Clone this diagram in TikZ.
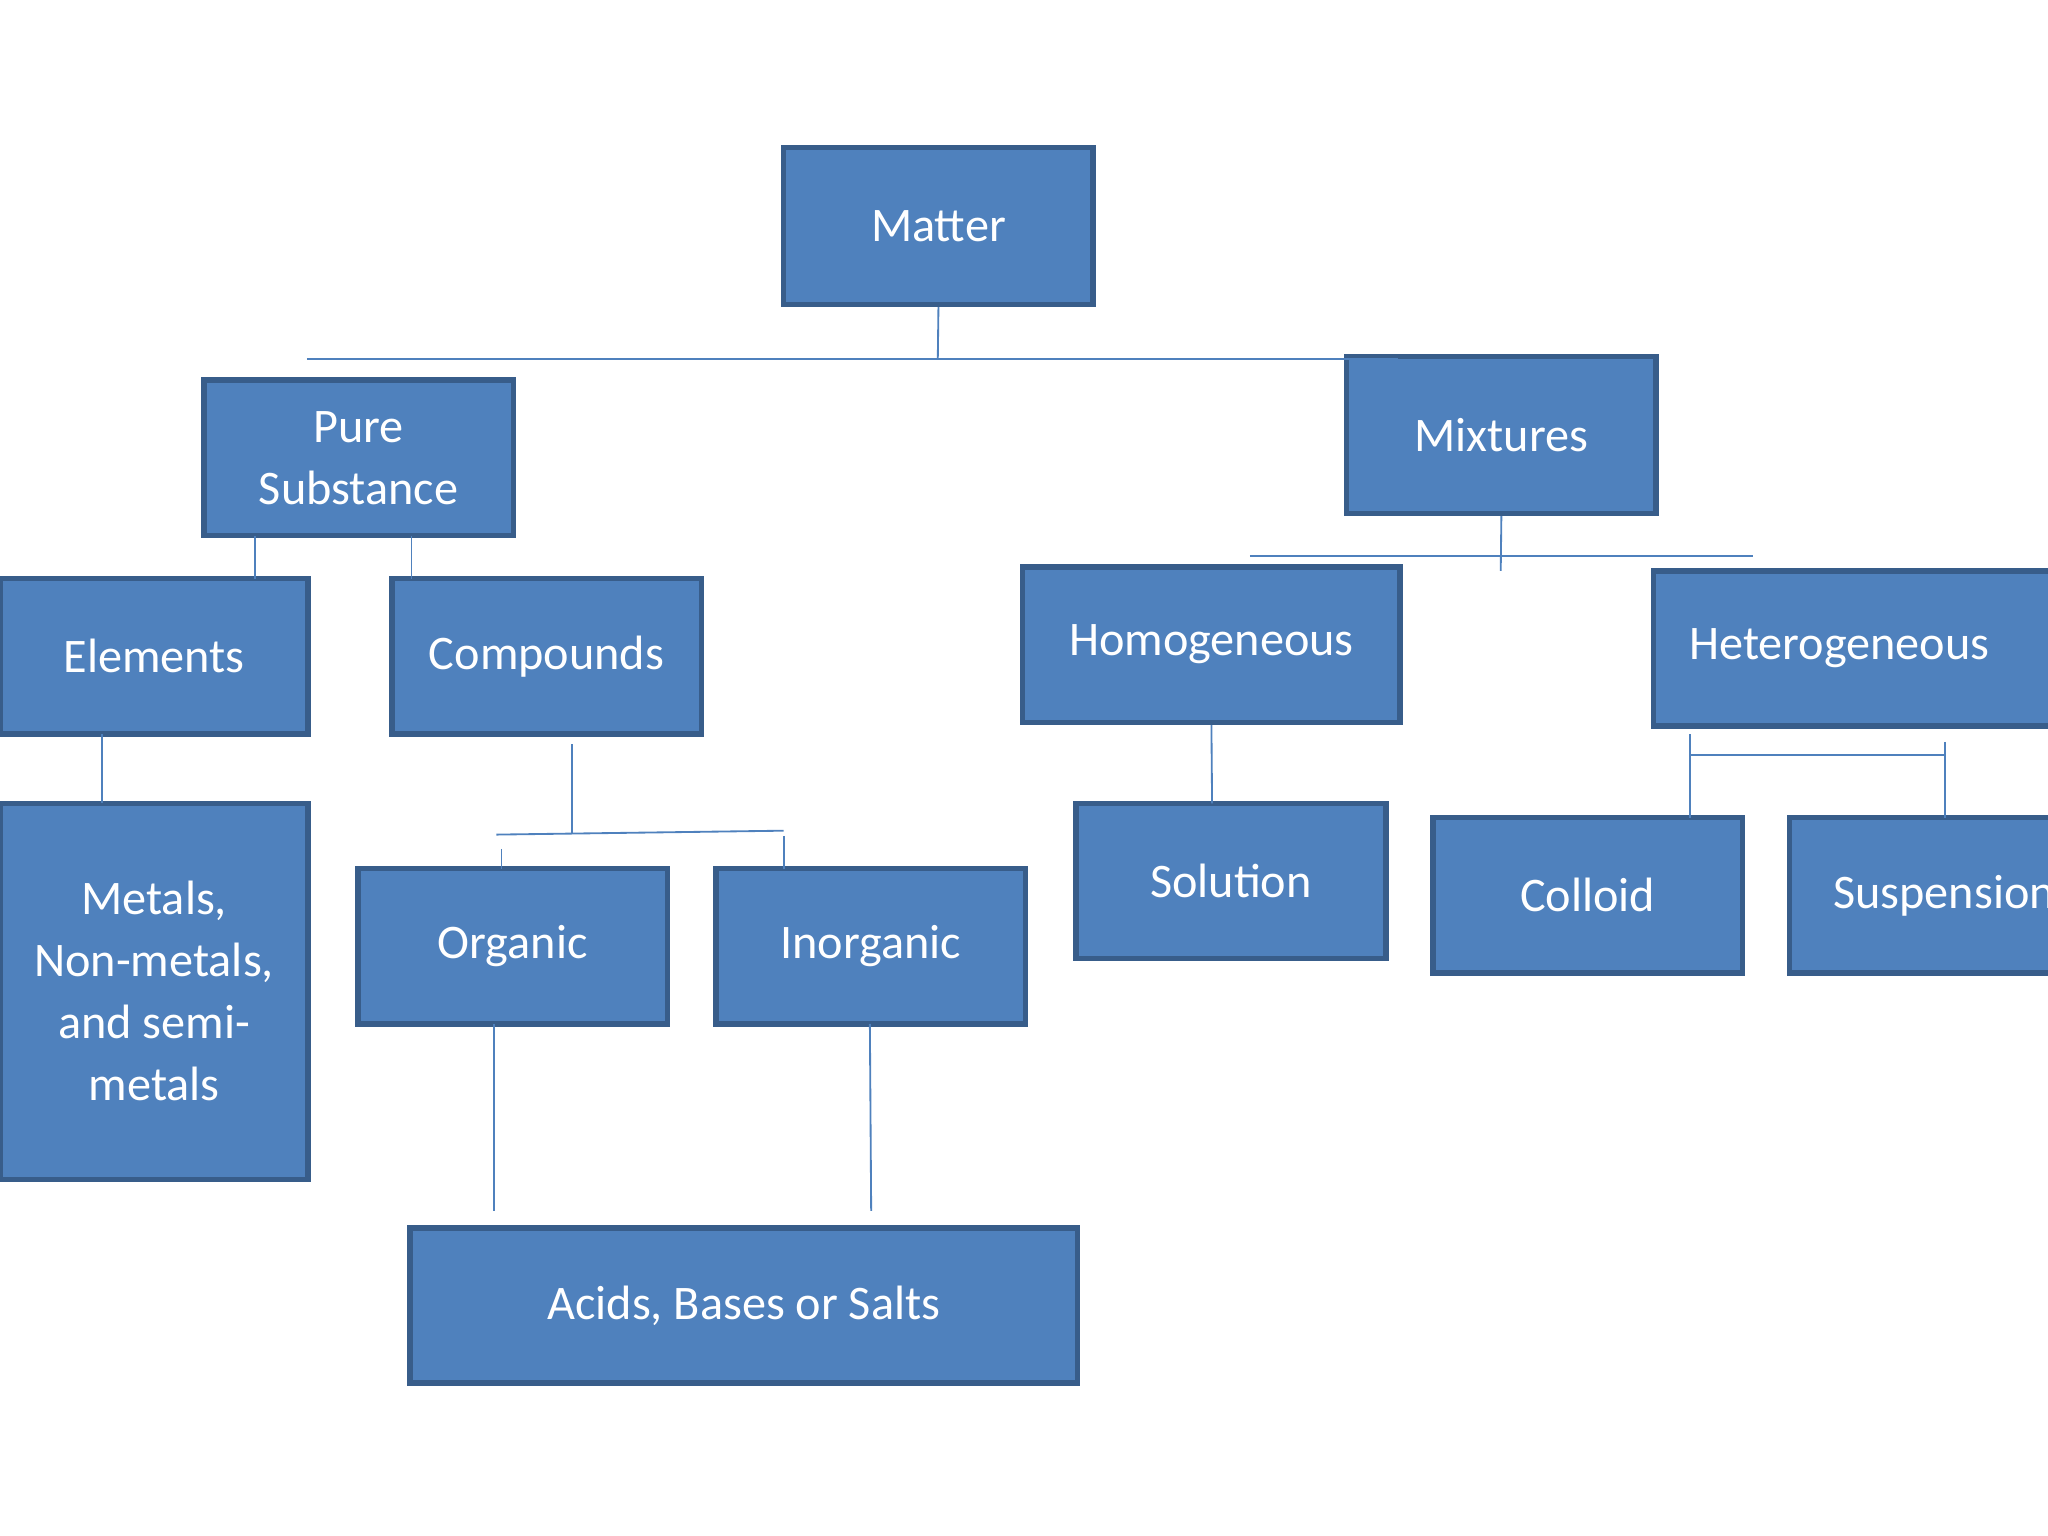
\documentclass[tikz,border=0pt]{standalone}
\usepackage{fontspec}
\setmainfont{Carlito}
\begin{document}
\begin{tikzpicture}[x=0.01cm,y=-0.01cm,
 box/.style={draw=blue!30!black!70!cyan!60,fill=boxfill,line width=1.2pt,text=white,align=center,inner sep=0pt,font=\fontsize{10.5}{13.5}\selectfont},
 ln/.style={draw=boxfill,line width=0.4pt}]
\definecolor{boxfill}{HTML}{4F81BD}
\definecolor{boxline}{HTML}{385D8A}
\tikzset{box/.append style={draw=boxline}}
\useasboundingbox (0,0) rectangle (1568,1176);
\clip (0,0) rectangle (1568,1176);
\newcommand\bx[6]{\node[box,minimum width={(#4-#2)*0.01cm},minimum height={(#5-#3)*0.01cm}] (#1) at ({(#2+#4)/2},{(#3+#5)/2}) {#6};}
\bx{matter}{600}{113}{837}{233}{Matter}
\bx{pure}{156}{291}{393}{410}{Pure\\Substance}
\bx{mix}{1031}{273}{1268}{393}{Mixtures}
\bx{elem}{0}{443}{236}{562}{Elements}
\bx{comp}{300}{443}{537}{562}{Compounds}
\bx{homo}{783}{434}{1072}{553}{Homogeneous}
\bx{hetero}{1266}{437}{1575}{556}{\hspace*{-7pt}Heterogeneous}
\bx{metals}{0}{615}{236}{903}{Metals,\\Non-metals,\\and semi-\\metals}
\bx{org}{274}{665}{511}{784}{Organic}
\bx{inorg}{548}{665}{785}{784}{Inorganic}
\bx{sol}{824}{615}{1061}{734}{Solution}
\bx{coll}{1097}{626}{1334}{745}{Colloid}
\bx{susp}{1370}{626}{1607}{745}{Suspension}
\bx{acids}{314}{940}{825}{1059}{Acids, Bases or Salts}
\draw[ln] (matter.south) -- (718,275);
\draw[ln] (235,275) -- (1070,275);
\draw[ln] (195,410) -- (195,443);
\draw[ln] (315,410) -- (315,443);
\draw[ln] (78,562) -- (78,615);
\draw[ln] (438,570) -- (438,638);
\draw[ln] (380,639) -- (600,636);
\draw[ln] (384,650) -- (384,665);
\draw[ln] (600,640) -- (600,665);
\draw[ln] (mix.south) -- (1149,437);
\draw[ln] (957,426) -- (1342,426);
\draw[ln] (homo.south) -- (928,615);
\draw[ln] (1294,562) -- (1294,626);
\draw[ln] (1294,578) -- (1489,578);
\draw[ln] (1489,568) -- (1489,626);
\draw[ln] (378,784) -- (378,927);
\draw[ln] (666,784) -- (667,927);
\end{tikzpicture}
\end{document}
